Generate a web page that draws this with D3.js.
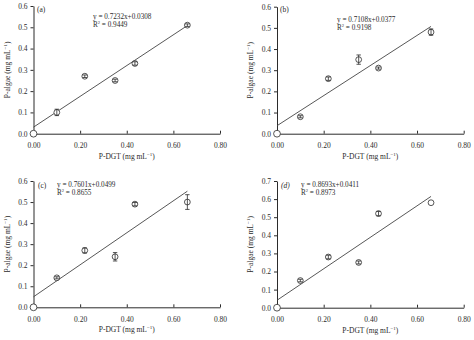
<!DOCTYPE html>
<html>
<head>
<meta charset="utf-8">
<script src="https://cdn.jsdelivr.net/npm/d3@7/dist/d3.min.js"></script>
<style>
  html, body { margin: 0; padding: 0; background: #fff; }
  svg text { font-family: "Liberation Serif", "Times New Roman", serif; fill: #2b2b2b; }
</style>
</head>
<body>
<svg id="chart" width="474" height="340"></svg>
<script>
// P-DGT concentrations (mg mL-1), shared by all four panels
const pDGT = [0, 0.10, 0.22, 0.35, 0.435, 0.66];

// P-algae means and error (±) for each panel
const algaeA = [0, 0.10, 0.27, 0.25, 0.33, 0.51];
const errA   = [0, 0.015, 0.006, 0.006, 0.008, 0.006];
const algaeB = [0, 0.08, 0.26, 0.35, 0.31, 0.48];
const errB   = [0, 0.005, 0.008, 0.022, 0.005, 0.015];
const algaeC = [0, 0.14, 0.27, 0.24, 0.49, 0.50];
const errC   = [0, 0.005, 0.012, 0.02, 0.008, 0.035];
const algaeD = [0, 0.15, 0.28, 0.25, 0.52, 0.58];
const errD   = [0, 0.007, 0.01, 0.008, 0.012, 0];

// Linear fits: slope, intercept, R²
const panelLabels = ["(a)", "(b)", "(c)", "(d)"];
const slopes      = [0.7232, 0.7108, 0.7601, 0.8693];
const intercepts  = [0.0308, 0.0377, 0.0499, 0.0411];
const rSquared    = ["0.9449", "0.9198", "0.8655", "0.8973"];

const xTicks  = [0, 0.2, 0.4, 0.6, 0.8];
const yMaxes  = [0.6, 0.6, 0.6, 0.7];

const panels = [
  { y: algaeA, e: errA, x0: 33.5, x1: 220,   yb: 133.7, yt: 6,   eq: [93, 19],  lab: [37, 12] },
  { y: algaeB, e: errB, x0: 277,  x1: 463.7, yb: 133.7, yt: 6.7, eq: [337, 22], lab: [280, 12] },
  { y: algaeC, e: errC, x0: 33.5, x1: 220,   yb: 307.3, yt: 181, eq: [57, 187], lab: [38, 188] },
  { y: algaeD, e: errD, x0: 277,  x1: 463.7, yb: 307.7, yt: 181, eq: [301, 187], lab: [281, 188] }
];

const svg = d3.select("#chart");
const ink = "#2b2b2b";

panels.forEach((p, i) => {
  const x = d3.scaleLinear().domain([0, 0.8]).range([p.x0, p.x1]);
  const y = d3.scaleLinear().domain([0, yMaxes[i]]).range([p.yb, p.yt]);
  const g = svg.append("g");

  // x axis with inward ticks
  const xAxis = d3.axisBottom(x).tickValues(xTicks).tickFormat(d3.format(".2f"))
    .tickSizeInner(-3).tickSizeOuter(0).tickPadding(9);
  const gx = g.append("g").attr("transform", `translate(0,${p.yb})`).call(xAxis);
  // y axis with outward ticks
  const yAxis = d3.axisLeft(y).ticks(yMaxes[i] * 10).tickFormat(d3.format(".1f"))
    .tickSizeInner(3).tickSizeOuter(0).tickPadding(3);
  const gy = g.append("g").attr("transform", `translate(${p.x0},0)`).call(yAxis);

  [gx, gy].forEach(a => {
    a.select(".domain").attr("stroke", ink).attr("stroke-width", 1);
    a.selectAll(".tick line").attr("stroke", ink);
    a.selectAll(".tick text").attr("font-size", 7.5).attr("fill", ink)
      .style("font-family", "'Liberation Serif', serif");
  });

  // axis titles
  const xt = g.append("text")
    .attr("x", (p.x0 + p.x1) / 2).attr("y", p.yb + 25)
    .attr("text-anchor", "middle").attr("font-size", 7.5);
  xt.append("tspan").text("P-DGT (mg mL");
  xt.append("tspan").attr("dy", -3).attr("font-size", 5).text("−1");
  xt.append("tspan").attr("dy", 3).text(")");

  const yt = g.append("text")
    .attr("transform", `translate(${p.x0 - 24},${(p.yb + p.yt) / 2}) rotate(-90)`)
    .attr("text-anchor", "middle").attr("font-size", 7.5);
  yt.append("tspan").text("P-algae (mg mL");
  yt.append("tspan").attr("dy", -3).attr("font-size", 5).text("−1");
  yt.append("tspan").attr("dy", 3).text(")");

  // panel letter
  g.append("text").attr("x", p.lab[0]).attr("y", p.lab[1])
    .attr("font-size", 7.5).style("font-style", i === 3 ? "italic" : "normal")
    .text(panelLabels[i]);

  // regression line
  const xs = [0, d3.max(pDGT)];
  g.append("line")
    .attr("x1", x(xs[0])).attr("y1", y(slopes[i] * xs[0] + intercepts[i]))
    .attr("x2", x(xs[1])).attr("y2", y(slopes[i] * xs[1] + intercepts[i]))
    .attr("stroke", "#444").attr("stroke-width", 0.9);

  // equation and R²
  g.append("text").attr("x", p.eq[0]).attr("y", p.eq[1]).attr("font-size", 7.2)
    .text(`y = ${slopes[i].toFixed(4)}x+${intercepts[i].toFixed(4)}`);
  const r = g.append("text").attr("x", p.eq[0]).attr("y", p.eq[1] + 7.5).attr("font-size", 7.2);
  r.append("tspan").text("R");
  r.append("tspan").attr("dy", -2.5).attr("font-size", 4.5).text("2");
  r.append("tspan").attr("dy", 2.5).text(` = ${rSquared[i]}`);

  const pts = pDGT.map((d, k) => ({ x: d, y: p.y[k], e: p.e[k] }));

  // markers: open circles with white fill
  g.selectAll(".pt").data(pts).join("circle")
    .attr("cx", d => x(d.x)).attr("cy", d => y(d.y))
    .attr("r", d => d.x === 0 ? 3.4 : 2.9)
    .attr("fill", "#fff")
    .attr("stroke", ink).attr("stroke-width", 0.8);

  // error bars drawn over the markers
  const eb = g.selectAll(".eb").data(pts.filter(d => d.e > 0)).join("g");
  eb.append("line")
    .attr("x1", d => x(d.x)).attr("x2", d => x(d.x))
    .attr("y1", d => y(d.y + d.e)).attr("y2", d => y(d.y - d.e))
    .attr("stroke", ink).attr("stroke-width", 0.8);
  eb.selectAll(".cap").data(d => [d.y + d.e, d.y - d.e].map(v => ({ x: d.x, v })))
    .join("line")
    .attr("x1", d => x(d.x) - 2.2).attr("x2", d => x(d.x) + 2.2)
    .attr("y1", d => y(d.v)).attr("y2", d => y(d.v))
    .attr("stroke", ink).attr("stroke-width", 0.8);
});
</script>
</body>
</html>
